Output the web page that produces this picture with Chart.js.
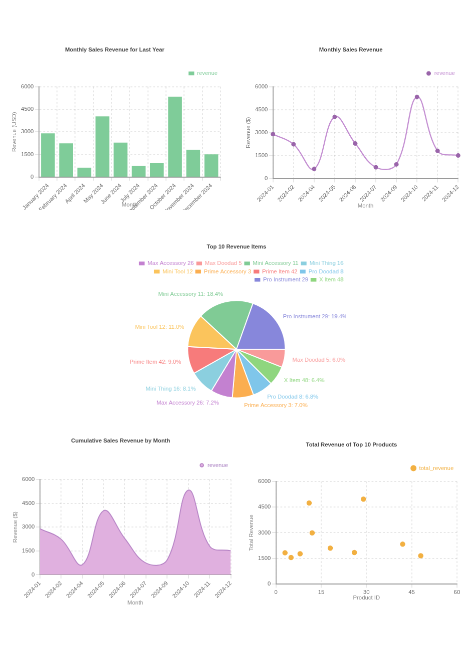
<!DOCTYPE html>
<html>
<head>
<meta charset="utf-8">
<title>Sales dashboard</title>
<script src="https://cdn.jsdelivr.net/npm/chart.js@4.4.1/dist/chart.umd.min.js"></script>
<style>
  html, body { margin: 0; padding: 0; background: #fff; overflow: hidden; }
  .box { position: absolute; }
  .box canvas { display: block; }
</style>
</head>
<body>
<div class="box" id="box-bar"><canvas id="bar-chart"></canvas></div>
<div class="box" id="box-line"><canvas id="line-chart"></canvas></div>
<div class="box" id="box-pie"><canvas id="pie-chart"></canvas></div>
<div class="box" id="box-area"><canvas id="area-chart"></canvas></div>
<div class="box" id="box-scatter"><canvas id="scatter-chart"></canvas></div>
<script>
// data
const monthNames = ['January 2024', 'February 2024', 'April 2024', 'May 2024', 'June 2024',
    'July 2024', 'September 2024', 'October 2024', 'November 2024', 'December 2024'];
const monthCodes = ['2024-01', '2024-02', '2024-04', '2024-05', '2024-06',
    '2024-07', '2024-09', '2024-10', '2024-11', '2024-12'];
const monthlyRevenue = [2900, 2240, 630, 4030, 2290, 740, 930, 5330, 1810, 1510];

const pieLabels = ['Max Doodad 5', 'X Item 48', 'Pro Doodad 8', 'Prime Accessory 3', 'Max Accessory 26',
    'Mini Thing 16', 'Prime Item 42', 'Mini Tool 12', 'Mini Accessory 11', 'Pro Instrument 29'];
const pieShares = [6.0, 6.4, 6.8, 7.0, 7.2, 8.1, 9.0, 11.0, 18.4, 19.4];
const pieColors = ['#f99a9a', '#8fd67f', '#7fc6ea', '#fbae50', '#c381d0',
    '#8bcfdf', '#f77b7b', '#fbc45c', '#80cb95', '#8787db'];

const productIds = [3, 5, 8, 11, 12, 18, 26, 29, 42, 48];
const productRevenue = [1825, 1550, 1770, 4740, 2990, 2100, 1845, 4970, 2330, 1650];

const revenueMax = 6000;
const revenueStep = 1500;
const productIdMax = 60;
const productIdStep = 15;

// the reference is a 1000px wide dashboard shrunk to 474px
const K = 0.474;
const s = v => v * K;

const green = '#7fcc99';
const purple = '#c48fd2';
const purpleDark = '#9a65aa';
const orange = '#f2b042';

Chart.defaults.font.family = "'Helvetica Neue', Helvetica, Arial, sans-serif";
Chart.defaults.font.size = s(12);
Chart.defaults.color = '#666';
Chart.defaults.animation = false;

function place(id, x, y, w, h) {
    const el = document.getElementById(id);
    el.style.left = s(x) + 'px';
    el.style.top = s(y) + 'px';
    el.style.width = s(w) + 'px';
    el.style.height = s(h) + 'px';
}

function legendGap(px) {
    return {
        id: 'legendGap',
        beforeInit(chart) {
            const fit = chart.legend.fit;
            chart.legend.fit = function () {
                fit.call(this);
                this.height += s(px);
            };
        }
    };
}

function titleOpts(text, bottom) {
    return {
        display: true,
        text: text,
        color: '#444',
        font: { size: s(12), weight: 'bold' },
        padding: { top: s(10), bottom: s(bottom) }
    };
}

function gridOpts() {
    return { color: 'rgba(0,0,0,0.13)', lineWidth: s(1.6), tickLength: s(8) };
}

function borderOpts() {
    return { color: '#9a9a9a', width: 0.9, dash: [s(4), s(4)] };
}

function axisTitle(text) {
    return { display: true, text: text, color: '#888', padding: { top: s(4), bottom: s(4) } };
}

function valueAxis(title) {
    return {
        min: 0,
        max: revenueMax,
        ticks: { stepSize: revenueStep, padding: s(3), callback: v => String(v) },
        title: axisTitle(title),
        grid: gridOpts(),
        border: borderOpts()
    };
}

function monthAxis(height) {
    return {
        ticks: { minRotation: 45, maxRotation: 45, padding: s(3), autoSkip: false },
        title: axisTitle('Month'),
        grid: gridOpts(),
        border: borderOpts(),
        afterFit: (scale) => { scale.height = s(height); }
    };
}

// bar chart
place('box-bar', 18, 88, 462, 356);
new Chart(document.getElementById('bar-chart'), {
    type: 'bar',
    data: {
        labels: monthNames,
        datasets: [{
            label: 'revenue',
            data: monthlyRevenue,
            backgroundColor: green,
            barPercentage: 0.95
        }]
    },
    options: {
        responsive: true,
        maintainAspectRatio: false,
        devicePixelRatio: 2,
        layout: { padding: { right: s(16) } },
        plugins: {
            title: titleOpts('Monthly Sales Revenue for Last Year', 30),
            legend: {
                align: 'end',
                labels: { color: green, boxWidth: s(12), boxHeight: s(8), padding: s(6) }
            },
            tooltip: { enabled: false }
        },
        scales: {
            x: monthAxis(70),
            y: valueAxis('Revenue (USD)')
        }
    },
    plugins: [legendGap(1)]
});

// line chart
place('box-line', 512, 88, 466, 358);
new Chart(document.getElementById('line-chart'), {
    type: 'line',
    data: {
        labels: monthCodes,
        datasets: [{
            label: 'revenue',
            data: monthlyRevenue,
            borderColor: purple,
            backgroundColor: purpleDark,
            borderWidth: s(2.5),
            pointRadius: s(3.5),
            pointBackgroundColor: purpleDark,
            pointBorderColor: purpleDark,
            tension: 0.4
        }]
    },
    options: {
        responsive: true,
        maintainAspectRatio: false,
        devicePixelRatio: 2,
        layout: { padding: { right: s(12) } },
        plugins: {
            title: titleOpts('Monthly Sales Revenue', 28),
            legend: {
                align: 'end',
                labels: { color: purple, usePointStyle: true, boxHeight: s(5), padding: s(8) }
            },
            tooltip: { enabled: false }
        },
        scales: {
            x: monthAxis(69),
            y: valueAxis('Revenue ($)')
        }
    },
    plugins: [legendGap(1)]
});

// pie chart with outside labels
const sliceLabels = {
    id: 'sliceLabels',
    afterDatasetsDraw(chart) {
        const ctx = chart.ctx;
        const meta = chart.getDatasetMeta(0);
        ctx.save();
        ctx.font = s(12) + 'px ' + Chart.defaults.font.family;
        ctx.textBaseline = 'middle';
        meta.data.forEach((arc, i) => {
            const p = arc.getProps(['x', 'y', 'startAngle', 'endAngle', 'outerRadius'], true);
            const mid = (p.startAngle + p.endAngle) / 2;
            const r = p.outerRadius + s(17);
            ctx.textAlign = Math.cos(mid) >= 0 ? 'left' : 'right';
            ctx.fillStyle = pieColors[i];
            ctx.fillText(pieLabels[i] + ': ' + pieShares[i].toFixed(1) + '%',
                p.x + Math.cos(mid) * r, p.y + Math.sin(mid) * r);
        });
        ctx.restore();
    }
};

place('box-pie', 268, 504, 462, 383);
new Chart(document.getElementById('pie-chart'), {
    type: 'pie',
    data: {
        labels: pieLabels,
        datasets: [{
            data: pieShares,
            backgroundColor: pieColors,
            borderColor: '#fff',
            borderWidth: s(2),
            radius: s(103)
        }]
    },
    options: {
        responsive: true,
        maintainAspectRatio: false,
        devicePixelRatio: 2,
        rotation: 90,
        layout: { padding: { bottom: s(30) } },
        plugins: {
            title: titleOpts('Top 10 Revenue Items', 16),
            legend: {
                align: 'end',
                labels: {
                    boxWidth: s(12),
                    boxHeight: s(8),
                    padding: s(5.3),
                    sort: (a, b) => a.text.localeCompare(b.text),
                    generateLabels: (chart) => chart.data.labels.map((label, i) => ({
                        text: label,
                        fillStyle: pieColors[i],
                        strokeStyle: pieColors[i],
                        fontColor: pieColors[i],
                        lineWidth: 0,
                        hidden: false,
                        index: i
                    }))
                }
            },
            tooltip: { enabled: false }
        }
    },
    plugins: [sliceLabels]
});

// cumulative area chart
place('box-area', 21, 913, 479, 370);
new Chart(document.getElementById('area-chart'), {
    type: 'line',
    data: {
        labels: monthCodes,
        datasets: [{
            label: 'revenue',
            data: monthlyRevenue,
            borderColor: '#b784c6',
            backgroundColor: '#e0b0df',
            borderWidth: s(2),
            pointRadius: 0,
            fill: 'origin',
            tension: 0.4
        }]
    },
    options: {
        responsive: true,
        maintainAspectRatio: false,
        devicePixelRatio: 2,
        layout: { padding: { right: s(12) } },
        plugins: {
            title: titleOpts('Cumulative Sales Revenue by Month', 30.6),
            legend: {
                align: 'end',
                labels: { color: '#a77cc0', usePointStyle: true, pointStyle: 'circle', boxHeight: s(5), padding: s(7) }
            },
            tooltip: { enabled: false }
        },
        scales: {
            x: monthAxis(71),
            y: valueAxis('Revenue ($)')
        }
    },
    plugins: [legendGap(3)]
});

// scatter chart
place('box-scatter', 520, 921, 457, 351);
new Chart(document.getElementById('scatter-chart'), {
    type: 'scatter',
    data: {
        datasets: [{
            label: 'total_revenue',
            data: productIds.map((id, i) => ({ x: id, y: productRevenue[i] })),
            backgroundColor: orange,
            borderColor: orange,
            pointRadius: s(4.5)
        }]
    },
    options: {
        responsive: true,
        maintainAspectRatio: false,
        devicePixelRatio: 2,
        layout: { padding: { right: s(13) } },
        plugins: {
            title: titleOpts('Total Revenue of Top 10 Products', 28.4),
            legend: {
                align: 'end',
                labels: { color: orange, usePointStyle: true, pointStyle: 'circle', boxHeight: s(7.5), padding: s(7) }
            },
            tooltip: { enabled: false }
        },
        scales: {
            x: {
                min: 0,
                max: productIdMax,
                ticks: { stepSize: productIdStep, padding: s(3) },
                title: axisTitle('Product ID'),
                grid: gridOpts(),
                border: borderOpts(),
                afterFit: (scale) => { scale.height = s(41); }
            },
            y: valueAxis('Total Revenue')
        }
    },
    plugins: [legendGap(1)]
});
</script>
</body>
</html>
